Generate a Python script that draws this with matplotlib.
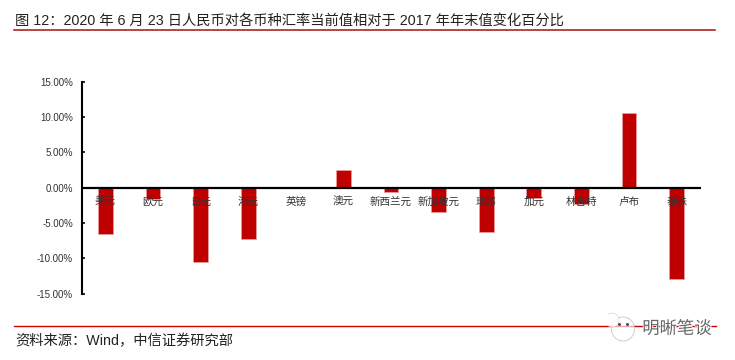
import matplotlib
matplotlib.use("Agg")
import matplotlib.pyplot as plt
from matplotlib.patches import Ellipse
from matplotlib.lines import Line2D
import matplotlib.patheffects as pe

plt.rcParams['font.family'] = ['Liberation Sans', 'Noto Sans CJK SC', 'DejaVu Sans']

categories = ['美元', '欧元', '日元', '港元', '英镑', '澳元', '新西兰元', '新加坡元', '瑞郎', '加元', '林吉特', '卢布', '泰铢']
values = [-6.65, -1.6, -10.5, -7.25, 0.0, 2.5, -0.65, -3.4, -6.3, -1.5, -2.4, 10.6, -12.9]
yticks = [-15, -10, -5, 0, 5, 10, 15]
ytick_labels = ['-15.00%', '-10.00%', '-5.00%', '0.00%', '5.00%', '10.00%', '15.00%']
title = '图 12：2020 年 6 月 23 日人民币对各币种汇率当前值相对于 2017 年年末值变化百分比'
source = '资料来源：Wind，中信证券研究部'
watermark = '明晰笔谈'

W, H = 735, 360
fig = plt.figure(figsize=(W / 100, H / 100), dpi=100, facecolor='white')

def fx(x): return x / W
def fy(y): return 1 - y / H

ax = fig.add_axes([fx(81.5), fy(293.5), (700.5 - 81.5) / W, (293.5 - 81.5) / H])
ax.set_xlim(-0.5, len(categories) - 0.5)
ax.set_ylim(-15, 15)
ax.bar(range(len(categories)), values, width=0.31, color='#C00000', edgecolor='#E9A0A0', linewidth=0.5, zorder=2)

for s in ['top', 'right', 'bottom']:
    ax.spines[s].set_visible(False)
ax.spines['left'].set_linewidth(1.5)
ax.axhline(0, color='black', linewidth=1.6, zorder=3)
ax.set_yticks(yticks)
ax.set_yticklabels(ytick_labels, fontsize=7, color='#333333')
ax.tick_params(axis='y', direction='in', length=2, width=1.2, pad=6)
ax.set_xticks([])

for i, c in enumerate(categories):
    ax.text(i, -2.42, c, ha='center', va='baseline', fontsize=7.6, color='#333333', zorder=4)

fig.text(fx(15), fy(20.5), title, fontsize=10.29, color='#222222', ha='left', va='center')
fig.add_artist(Line2D([fx(14), fx(715)], [fy(29.5), fy(29.5)], color='#A81010', linewidth=1.1))
fig.add_artist(Line2D([fx(14), fx(716)], [fy(326), fy(326)], color='#D00000', linewidth=1.0))
fig.text(fx(15), fy(340.5), source, fontsize=10.29, color='#222222', ha='left', va='center')

# watermark: faint bubble icon and grey text with a thin white halo
icon = fig.add_axes([fx(608), fy(345), 40 / W, 40 / H], zorder=5)
icon.set_xlim(0, 40)
icon.set_ylim(40, 0)
icon.axis('off')
icon.patch.set_alpha(0)
icon.add_patch(Ellipse((15, 24), 23, 24, facecolor=(1, 1, 1, 0.65), edgecolor='#BBBBBB', linewidth=0.5))
icon.add_patch(Ellipse((4, 15), 14, 14, facecolor=(1, 1, 1, 0.8), edgecolor='#CCCCCC', linewidth=0.4))
icon.plot([11, 19], [19, 19], ls='none', marker='o', ms=1.1, color='#444444')
fig.text(fx(677), fy(328.5), watermark, fontsize=12.5, color='#666666', ha='center', va='center',
         path_effects=[pe.withStroke(linewidth=1.2, foreground='white')], zorder=6)

fig.savefig('out.png', dpi=100, facecolor='white')
